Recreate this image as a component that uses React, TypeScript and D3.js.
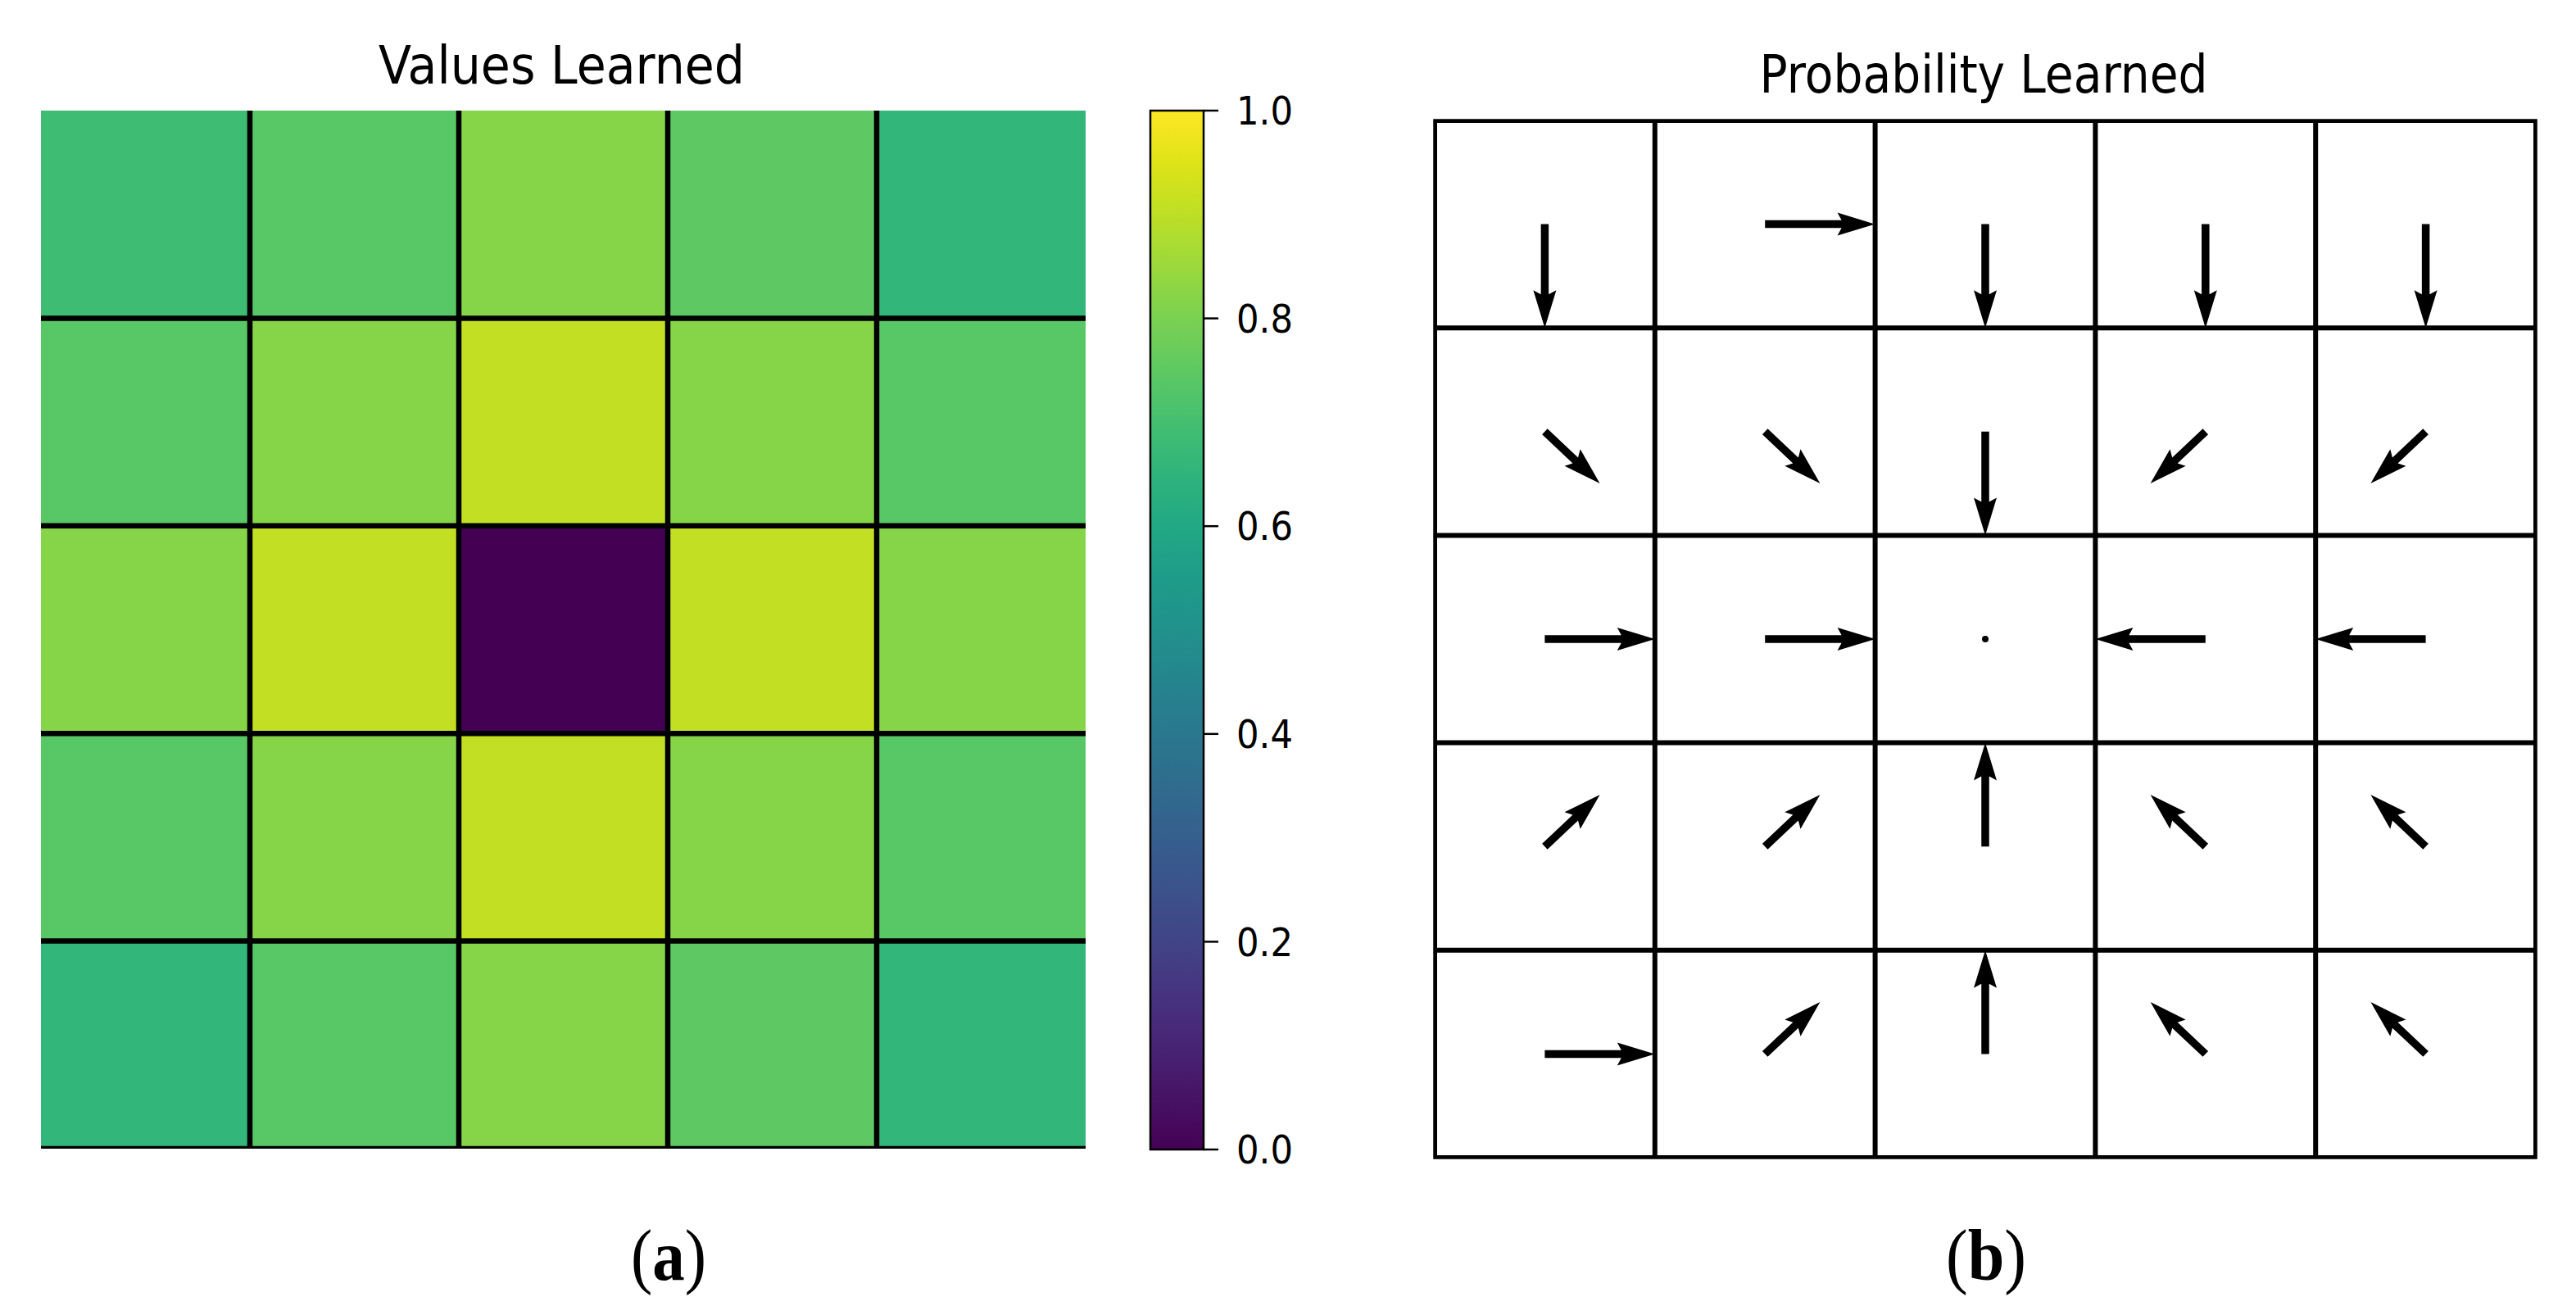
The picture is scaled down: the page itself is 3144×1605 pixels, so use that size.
import React from "react";
import * as d3 from "d3";

// ---- data ----
const gridSize = 5;
const valuesLearned: number[][] = [
  [0.69, 0.74, 0.82, 0.75, 0.66],
  [0.74, 0.82, 0.91, 0.82, 0.74],
  [0.82, 0.91, 0.0, 0.91, 0.82],
  [0.74, 0.82, 0.91, 0.82, 0.74],
  [0.66, 0.74, 0.82, 0.75, 0.66],
];
// policy vector components: U = right(+)/left(-), V = down(+)/up(-)
const policyU: number[][] = [
  [0, 1, 0, 0, 0],
  [0.5, 0.5, 0, -0.5, -0.5],
  [1, 1, 0, -1, -1],
  [0.5, 0.5, 0, -0.5, -0.5],
  [1, 0.5, 0, -0.5, -0.5],
];
const policyV: number[][] = [
  [1, 0, 1, 1, 1],
  [0.5, 0.5, 1, 0.5, 0.5],
  [0, 0, 0, 0, 0],
  [-0.5, -0.5, -1, -0.5, -0.5],
  [0, -0.5, -1, -0.5, -0.5],
];
const colorbarTicks = [0, 0.2, 0.4, 0.6, 0.8, 1.0];
const titleA = "Values Learned";
const titleB = "Probability Learned";

const W = 3144;
const H = 1605;
const sans = "'DejaVu Sans', sans-serif";
const serif = "'Liberation Serif', 'Times New Roman', serif";

export default function App() {
  const xL = d3.scaleLinear().domain([0, gridSize]).range([50, 1325]);
  const yL = d3.scaleLinear().domain([0, gridSize]).range([135, 1402]);
  const color = d3.scaleSequential(d3.interpolateViridis).domain([0, 1]);
  const cb = d3.scaleLinear().domain([0, 1]).range([1403, 135]);
  const cbX0 = 1404;
  const cbX1 = 1469;

  const xR = d3.scaleLinear().domain([0, gridSize]).range([1751, 3095]);
  const yR = d3.scaleLinear().domain([0, gridSize]).range([147, 1413]);

  const idx = d3.range(gridSize);
  const stops = d3.range(0, 1.0001, 0.05);

  const shaft = 9.5;
  const headLen = 46;
  const headAxis = 41;
  const headW = 28;

  const arrowPath = (x0: number, y0: number, x1: number, y1: number) => {
    const dx = x1 - x0;
    const dy = y1 - y0;
    const L = Math.hypot(dx, dy);
    const ux = dx / L;
    const uy = dy / L;
    const px = -uy;
    const py = ux;
    const pts: [number, number][] = [
      [0, shaft / 2],
      [L - headAxis, shaft / 2],
      [L - headLen, headW / 2],
      [L, 0],
      [L - headLen, -headW / 2],
      [L - headAxis, -shaft / 2],
      [0, -shaft / 2],
    ];
    return (
      "M" +
      pts
        .map(([a, b]) => `${x0 + ux * a + px * b},${y0 + uy * a + py * b}`)
        .join("L") +
      "Z"
    );
  };

  return (
    <svg
      width={W}
      height={H}
      style={{ position: "absolute", left: 0, top: 0, display: "block", background: "#fff" }}
    >
      <defs>
        <clipPath id="clipL">
          <rect x={xL(0)} y={yL(0)} width={xL(5) - xL(0)} height={yL(5) - yL(0)} />
        </clipPath>
        <clipPath id="clipR">
          <rect x={xR(0)} y={yR(0)} width={xR(5) - xR(0)} height={yR(5) - yR(0)} />
        </clipPath>
        <linearGradient id="viridisGrad" x1="0" y1="1" x2="0" y2="0">
          {stops.map((s) => (
            <stop key={s} offset={s} stopColor={color(s)} />
          ))}
        </linearGradient>
      </defs>

      {/* ---- Panel (a): heatmap ---- */}
      <text
        x={(xL(0) + xL(5)) / 2 - 2}
        y={102}
        fontFamily={sans}
        fontSize={64}
        textAnchor="middle"
        textLength={447}
        lengthAdjust="spacingAndGlyphs"
        fill="#000"
      >
        {titleA}
      </text>
      <g>
        {idx.map((r) =>
          idx.map((c) => (
            <rect
              key={`h${r}-${c}`}
              x={xL(c)}
              y={yL(r)}
              width={xL(c + 1) - xL(c)}
              height={yL(r + 1) - yL(r)}
              fill={color(valuesLearned[r][c])}
            />
          ))
        )}
      </g>
      <g clipPath="url(#clipL)" stroke="#000" strokeWidth={6.5}>
        {[1, 2, 3, 4].map((c) => (
          <line key={`lv${c}`} x1={xL(c)} x2={xL(c)} y1={yL(0)} y2={yL(5)} />
        ))}
        {[1, 2, 3, 4, 5].map((r) => (
          <line key={`lh${r}`} x1={xL(0)} x2={xL(5)} y1={yL(r)} y2={yL(r)} />
        ))}
      </g>

      {/* colorbar */}
      <rect x={cbX0} y={cb(1)} width={cbX1 - cbX0} height={cb(0) - cb(1)} fill="url(#viridisGrad)" stroke="#000" strokeWidth={2.5} />
      {colorbarTicks.map((t) => (
        <g key={`t${t}`}>
          <line x1={cbX1} x2={cbX1 + 18} y1={cb(t)} y2={cb(t)} stroke="#000" strokeWidth={2.5} />
          <text
            x={1509}
            y={cb(t)}
            dy="0.36em"
            fontFamily={sans}
            fontSize={48}
            textLength={69}
            lengthAdjust="spacingAndGlyphs"
            fill="#000"
          >
            {t.toFixed(1)}
          </text>
        </g>
      ))}

      {/* ---- Panel (b): policy arrows ---- */}
      <text
        x={(xR(0) + xR(5)) / 2 - 2}
        y={113}
        fontFamily={sans}
        fontSize={64}
        textAnchor="middle"
        textLength={547}
        lengthAdjust="spacingAndGlyphs"
        fill="#000"
      >
        {titleB}
      </text>
      <rect x={xR(0)} y={yR(0)} width={xR(5) - xR(0)} height={yR(5) - yR(0)} fill="#fff" />
      <g clipPath="url(#clipR)" stroke="#000" strokeWidth={6}>
        {[0, 1, 2, 3, 4, 5].map((c) => (
          <line key={`rv${c}`} x1={xR(c)} x2={xR(c)} y1={yR(0)} y2={yR(5)} />
        ))}
        {[0, 1, 2, 3, 4, 5].map((r) => (
          <line key={`rh${r}`} x1={xR(0)} x2={xR(5)} y1={yR(r)} y2={yR(r)} />
        ))}
      </g>
      <rect x={xR(0)} y={yR(0)} width={xR(5) - xR(0)} height={yR(5) - yR(0)} fill="none" stroke="#000" strokeWidth={3.5} />
      <g fill="#000">
        {idx.map((r) =>
          idx.map((c) => {
            const u = policyU[r][c];
            const v = policyV[r][c];
            const x0 = xR(c + 0.5);
            const y0 = yR(r + 0.5);
            if (u === 0 && v === 0) {
              return <circle key={`a${r}-${c}`} cx={x0} cy={y0} r={4} />;
            }
            const x1 = xR(c + 0.5 + u * 0.5);
            const y1 = yR(r + 0.5 + v * 0.5);
            return <path key={`a${r}-${c}`} d={arrowPath(x0, y0, x1, y1)} />;
          })
        )}
      </g>

      {/* sub-figure labels */}
      <text x={816} y={1562} fontFamily={serif} fontSize={88} textAnchor="middle" textLength={92} lengthAdjust="spacingAndGlyphs" fill="#000">
        (<tspan fontWeight="bold">a</tspan>)
      </text>
      <text x={2424} y={1562} fontFamily={serif} fontSize={88} textAnchor="middle" textLength={98} lengthAdjust="spacingAndGlyphs" fill="#000">
        (<tspan fontWeight="bold">b</tspan>)
      </text>
    </svg>
  );
}
